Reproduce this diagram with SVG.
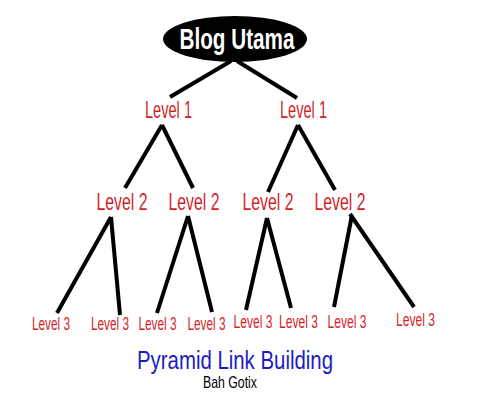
<svg xmlns="http://www.w3.org/2000/svg" width="500" height="400" viewBox="0 0 500 400">
<style>
text{font-family:"Liberation Sans","DejaVu Sans",sans-serif;text-anchor:middle}
.l1,.l2{fill:#d21f2b;font-size:24px}
.l3{fill:#d21f2b;font-size:18px}
.c line{stroke:#000;stroke-width:4;stroke-linecap:butt}
</style>
<rect width="500" height="400" fill="#fff"/>
<g class="c" id="connectors">
<line x1="231" y1="61" x2="170" y2="97"/>
<line x1="237" y1="61" x2="297" y2="98"/>
<line x1="162" y1="125" x2="125" y2="188"/>
<line x1="162" y1="125" x2="193" y2="188"/>
<line x1="298" y1="125" x2="268" y2="192"/>
<line x1="298" y1="125" x2="335" y2="190"/>
<line x1="111" y1="217" x2="57" y2="313"/>
<line x1="111" y1="217" x2="120" y2="315"/>
<line x1="188" y1="216" x2="157" y2="313"/>
<line x1="188" y1="216" x2="212" y2="312"/>
<line x1="267" y1="218" x2="246" y2="310"/>
<line x1="267" y1="218" x2="291" y2="308"/>
<line x1="352" y1="215" x2="334" y2="307"/>
<line x1="350" y1="214" x2="414" y2="307"/>
</g>
<g id="root">
<ellipse cx="235" cy="39" rx="72" ry="23" fill="#000"/>
<text x="237" y="49" fill="#fff" font-size="30" font-weight="bold" textLength="115" lengthAdjust="spacingAndGlyphs">Blog Utama</text>
</g>
<g id="l1a"><text class="l1" x="168.5" y="118" textLength="47" lengthAdjust="spacingAndGlyphs">Level 1</text></g>
<g id="l1b"><text class="l1" x="303.5" y="118" textLength="47" lengthAdjust="spacingAndGlyphs">Level 1</text></g>
<g id="l2a"><text class="l2" x="122" y="210" textLength="51" lengthAdjust="spacingAndGlyphs">Level 2</text></g>
<g id="l2b"><text class="l2" x="194" y="210" textLength="51" lengthAdjust="spacingAndGlyphs">Level 2</text></g>
<g id="l2c"><text class="l2" x="268" y="210" textLength="51" lengthAdjust="spacingAndGlyphs">Level 2</text></g>
<g id="l2d"><text class="l2" x="340" y="210" textLength="51" lengthAdjust="spacingAndGlyphs">Level 2</text></g>
<g id="l3a"><text class="l3" x="51" y="330" textLength="38" lengthAdjust="spacingAndGlyphs">Level 3</text></g>
<g id="l3b"><text class="l3" x="110" y="330" textLength="38" lengthAdjust="spacingAndGlyphs">Level 3</text></g>
<g id="l3c"><text class="l3" x="157.5" y="330" textLength="38" lengthAdjust="spacingAndGlyphs">Level 3</text></g>
<g id="l3d"><text class="l3" x="206.5" y="330" textLength="38" lengthAdjust="spacingAndGlyphs">Level 3</text></g>
<g id="l3e"><text class="l3" x="253" y="328" textLength="39" lengthAdjust="spacingAndGlyphs">Level 3</text></g>
<g id="l3f"><text class="l3" x="298.5" y="328" textLength="39" lengthAdjust="spacingAndGlyphs">Level 3</text></g>
<g id="l3g"><text class="l3" x="347" y="328" textLength="39" lengthAdjust="spacingAndGlyphs">Level 3</text></g>
<g id="l3h"><text class="l3" x="415.5" y="326" textLength="39" lengthAdjust="spacingAndGlyphs">Level 3</text></g>
<g id="title"><text x="235" y="369" fill="#1c1cc4" font-size="26" textLength="196" lengthAdjust="spacingAndGlyphs">Pyramid Link Building</text></g>
<g id="author"><text x="230" y="388" fill="#000" font-size="17" textLength="54" lengthAdjust="spacingAndGlyphs">Bah Gotix</text></g>
</svg>
